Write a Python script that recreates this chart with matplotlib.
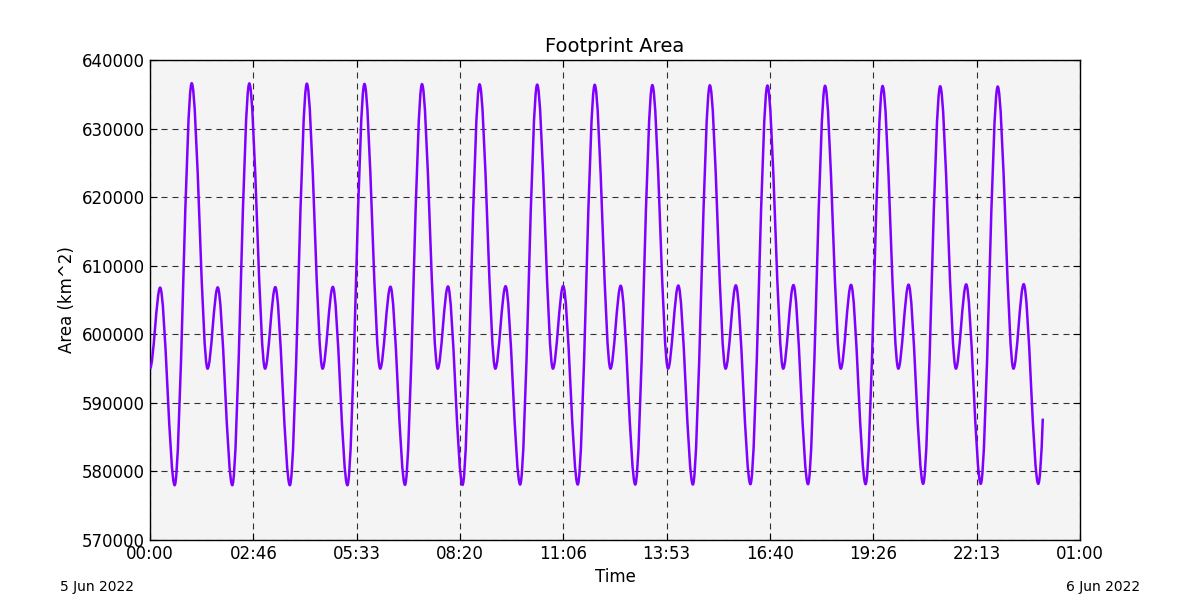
"""Footprint area over one day, redrawn from the reference chart."""

from datetime import datetime, timedelta

import matplotlib

matplotlib.use("Agg")
import matplotlib.dates as mdates
import matplotlib.pyplot as plt
from matplotlib.patches import PathPatch
from matplotlib.path import Path
from matplotlib.ticker import ScalarFormatter

START = datetime(2022, 6, 5)

# Turning points of the curve, minutes after 00:00.
peak_min = [67.3, 160.2, 253.0, 345.9, 438.7, 531.6, 624.5, 717.3,
            810.2, 903.0, 995.9, 1088.8, 1181.6, 1274.5, 1367.3]
peak_km2 = [636600, 636570, 636540, 636500, 636470, 636440, 636400, 636370,
            636330, 636300, 636260, 636230, 636200, 636160, 636120]

small_peak_min = [16.3, 109.2, 202.1, 294.9, 387.8, 480.6, 573.5, 666.4,
                  759.2, 852.1, 944.9, 1037.8, 1130.7, 1223.5, 1316.4, 1409.2]
small_peak_km2 = [606800, 606830, 606870, 606900, 606930, 606970, 607000, 607030,
                  607070, 607100, 607130, 607170, 607200, 607230, 607270, 607300]

low_min = [39.8, 132.7, 225.6, 318.4, 411.3, 504.1, 597.0, 689.9,
           782.7, 875.6, 968.4, 1061.3, 1154.2, 1247.0, 1339.9, 1432.7]
low_km2 = [578000, 578000, 578000, 578000, 578050, 578050, 578100, 578100,
           578100, 578100, 578150, 578150, 578150, 578200, 578200, 578200]

trough_min = [0.0, 92.9, 185.6, 278.4, 371.3, 464.1, 557.0, 649.9,
              742.7, 835.6, 928.4, 1021.3, 1114.2, 1207.0, 1299.9, 1392.7]
trough_km2 = [595000, 595000, 595000, 595000, 595000, 595000, 595000, 595000,
              595000, 595000, 595000, 595000, 595000, 595000, 595000, 595000]

# last sample of the day: still climbing towards the next peak
end_min = 1440.0
end_km2 = 587700
end_slope = 2500  # km^2 per minute at the last sample

xtick_sec = [0, 10000, 20000, 30000, 40000, 50000, 60000, 70000, 80000, 90000]
yticks = [570000, 580000, 590000, 600000, 610000, 620000, 630000, 640000]


def to_num(minutes):
    return mdates.date2num(START + timedelta(minutes=minutes))


# merge all turning points in time order
pts = sorted(zip(peak_min + small_peak_min + low_min + trough_min,
                 peak_km2 + small_peak_km2 + low_km2 + trough_km2))
pts.append((end_min, end_km2))

# smooth curve: cubic Bezier between neighbouring turning points, flat tangents
verts = [(to_num(pts[0][0]), pts[0][1])]
codes = [Path.MOVETO]
for i, ((t0, v0), (t1, v1)) in enumerate(zip(pts[:-1], pts[1:])):
    dt = t1 - t0
    v1_ctrl = v1 - end_slope * dt / 3 if i == len(pts) - 2 else v1
    verts += [(to_num(t0 + dt / 3), v0), (to_num(t1 - dt / 3), v1_ctrl), (to_num(t1), v1)]
    codes += [Path.CURVE4] * 3

fig, ax = plt.subplots(figsize=(12, 6), dpi=100)
fig.subplots_adjust(left=0.125, right=0.9, bottom=0.1, top=0.9)
ax.set_facecolor("#f4f4f4")
ax.add_patch(PathPatch(Path(verts, codes), fill=False, edgecolor="#7f00ff",
                       lw=1.8, capstyle="butt", zorder=3))

ax.xaxis_date()
ax.set_xlim(to_num(0), to_num(90000 / 60))
ax.set_xticks([to_num(s / 60) for s in xtick_sec])
ax.xaxis.set_major_formatter(mdates.DateFormatter("%H:%M"))
ax.set_ylim(570000, 640000)
ax.set_yticks(yticks)
fmt = ScalarFormatter(useOffset=False)
fmt.set_scientific(False)
ax.yaxis.set_major_formatter(fmt)

ax.grid(True, color="k", lw=0.8, dashes=(5.4, 4.5), alpha=0.8)
ax.tick_params(direction="in", top=True, right=True, length=5, labelsize=12)
for s in ax.spines.values():
    s.set_linewidth(1.0)

ax.set_title("Footprint Area", fontsize=14)
ax.set_xlabel("Time", fontsize=12)
ax.set_ylabel("Area (km^2)", fontsize=12)
fig.text(0.05, 0.022, "5 Jun 2022", ha="left", va="center", fontsize=10)
fig.text(0.95, 0.022, "6 Jun 2022", ha="right", va="center", fontsize=10)

fig.savefig("out.png", dpi=100)
